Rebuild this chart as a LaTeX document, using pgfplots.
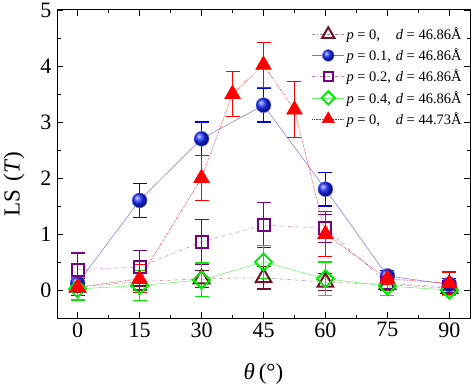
\documentclass[border=0pt]{standalone}
\usepackage{fontspec}
\setmainfont{Liberation Serif}
\usepackage{pgfplots}
\pgfplotsset{compat=1.18}
\usetikzlibrary{shadings,calc}
\definecolor{cmaroon}{RGB}{110,20,40}
\definecolor{cblue}{RGB}{0,0,230}
\definecolor{cball}{RGB}{20,40,255}
\definecolor{cpurple}{RGB}{120,0,130}
\definecolor{cgreen}{RGB}{0,235,0}
\definecolor{cred}{RGB}{255,0,0}
\newcommand{\lt}[2]{\makebox[3.4em][l]{\textit{p} = #1,}\textit{d} = #2Å}
\begin{document}
\begin{tikzpicture}
\begin{axis}[
  scale only axis, width=413pt, height=308pt,
  xmin=-5, xmax=95, ymin=-0.5, ymax=5,
  xtick={0,15,...,90}, minor x tick num=1,
  ytick={0,1,...,5}, minor y tick num=1,
  tick align=inside, major tick length=6pt, minor tick length=3.5pt,
  tick style={black, line width=0.8pt},
  axis line style={line width=1pt},
  /pgf/number format/assume math mode=true,
  tick label style={font=\fontsize{22}{26}\selectfont},
  yticklabel style={xshift=-2pt},
  xticklabel style={yshift=-1pt},
  label style={font=\fontsize{23}{27}\selectfont},
  xlabel={\textit{θ}\,(°)}, ylabel={LS\hspace{0.1em} (\textit{T})},
  xlabel style={at={(rel axis cs:0.5,-0.182)}, anchor=center},
  ylabel style={at={(rel axis cs:-0.104,0.435)}, anchor=center},
  legend style={at={(rel axis cs:0.985,0.950)}, anchor=north east, draw=none, fill=none,
    font=\fontsize{14.5}{16}\selectfont, row sep=3.8pt, cells={anchor=west},
    inner sep=0pt},
  legend image code/.code={\draw[mark repeat=2,mark phase=2] plot coordinates {(0cm,0cm) (0.56cm,0cm) (1.12cm,0cm)};},
  legend image post style={every mark/.append style={scale=0.78}},
  error bars/y dir=both, error bars/y explicit,
]
% p=0, d=46.86 (open maroon triangle)
\addplot[color=cmaroon!55, line width=0.5pt, dashdotted, mark=triangle, mark size=9pt,
  mark options={draw=cmaroon, line width=2pt, fill=none, solid},
  error bars/error bar style={cmaroon, line width=1.3pt, solid},
  error bars/error mark options={cmaroon, line width=1.3pt, mark size=7pt, rotate=90, solid}]
  coordinates {(0,0.05) +- (0,0.15) (15,0.15) +- (0,0.15) (30,0.2) +- (0,0.15) (45,0.22) +- (0,0.2) (60,0.14) +- (0,0.15) (75,0.1) +- (0,0.1) (90,0.03) +- (0,0.08)};
\addlegendentry{\lt{0}{46.86}}
% p=0.1 blue balls
\addplot[color=cblue!55, line width=0.5pt, mark=ball, mark size=7.5pt,
  mark options={ball color=cball, draw=none},
  error bars/error bar style={cblue, line width=1.3pt},
  error bars/error mark options={cblue, line width=1.3pt, mark size=7pt, rotate=90}]
  coordinates {(0,0.12) +- (0,0.1) (15,1.6) +- (0,0.3) (30,2.7) +- (0,0.3) (45,3.3) +- (0,0.3) (60,1.8) +- (0,0.3) (75,0.25) +- (0,0.1) (90,0.1) +- (0,0.1)};
\addlegendentry{\lt{0.1}{46.86}}
% p=0.2 purple squares
\addplot[color=cpurple!50, line width=0.5pt, dashdotted, mark=square, mark size=6pt,
  mark options={draw=cpurple, line width=2pt, fill=none, solid},
  error bars/error bar style={cpurple, line width=1.3pt, solid},
  error bars/error mark options={cpurple, line width=1.3pt, mark size=7pt, rotate=90, solid}]
  coordinates {(0,0.36) +- (0,0.3) (15,0.41) +- (0,0.3) (30,0.86) +- (0,0.4) (45,1.16) +- (0,0.4) (60,1.1) +- (0,0.25) (75,0.12) +- (0,0.1) (90,0.05) +- (0,0.1)};
\addlegendentry{\lt{0.2}{46.86}}
% p=0.4 green diamonds
\addplot[color=cgreen!60, line width=0.5pt, mark=square, mark size=6pt,
  mark options={draw=cgreen, line width=2pt, fill=none, rotate=45},
  error bars/error bar style={cgreen, line width=1.3pt},
  error bars/error mark options={cgreen, line width=1.3pt, mark size=7pt, rotate=90}]
  coordinates {(0,0.02) +- (0,0.2) (15,0.08) +- (0,0.27) (30,0.18) +- (0,0.3) (45,0.5) +- (0,0.3) (60,0.2) +- (0,0.3) (75,0.07) +- (0,0.17) (90,0.0) +- (0,0.1)};
\addlegendentry{\lt{0.4}{46.86}}
% p=0, d=44.73 red filled triangles
\addplot[color=cred, line width=0.6pt, densely dotted, mark=triangle*, mark size=9pt,
  mark options={fill=cred, draw=cred, solid},
  error bars/error bar style={cred, line width=1.3pt, solid},
  error bars/error mark options={cred, line width=1.3pt, mark size=7pt, rotate=90, solid}]
  coordinates {(0,0.05) +- (0,0.1) (15,0.2) +- (0,0.25) (30,2.0) +- (0,0.4) (37.5,3.5) +- (0,0.4) (45,4.02) +- (0,0.4) (52.5,3.22) +- (0,0.5) (60,1.0) +- (0,0.4) (75,0.2) +- (0,0.1) (90,0.12) +- (0,0.2)};
\addlegendentry{\lt{0}{44.73}}
\end{axis}
\pgfresetboundingbox
\path[use as bounding box] ($(current axis.south west)+(-57pt,-72pt)$) rectangle ($(current axis.north east)+(4pt,10pt)$);
\end{tikzpicture}
\end{document}
